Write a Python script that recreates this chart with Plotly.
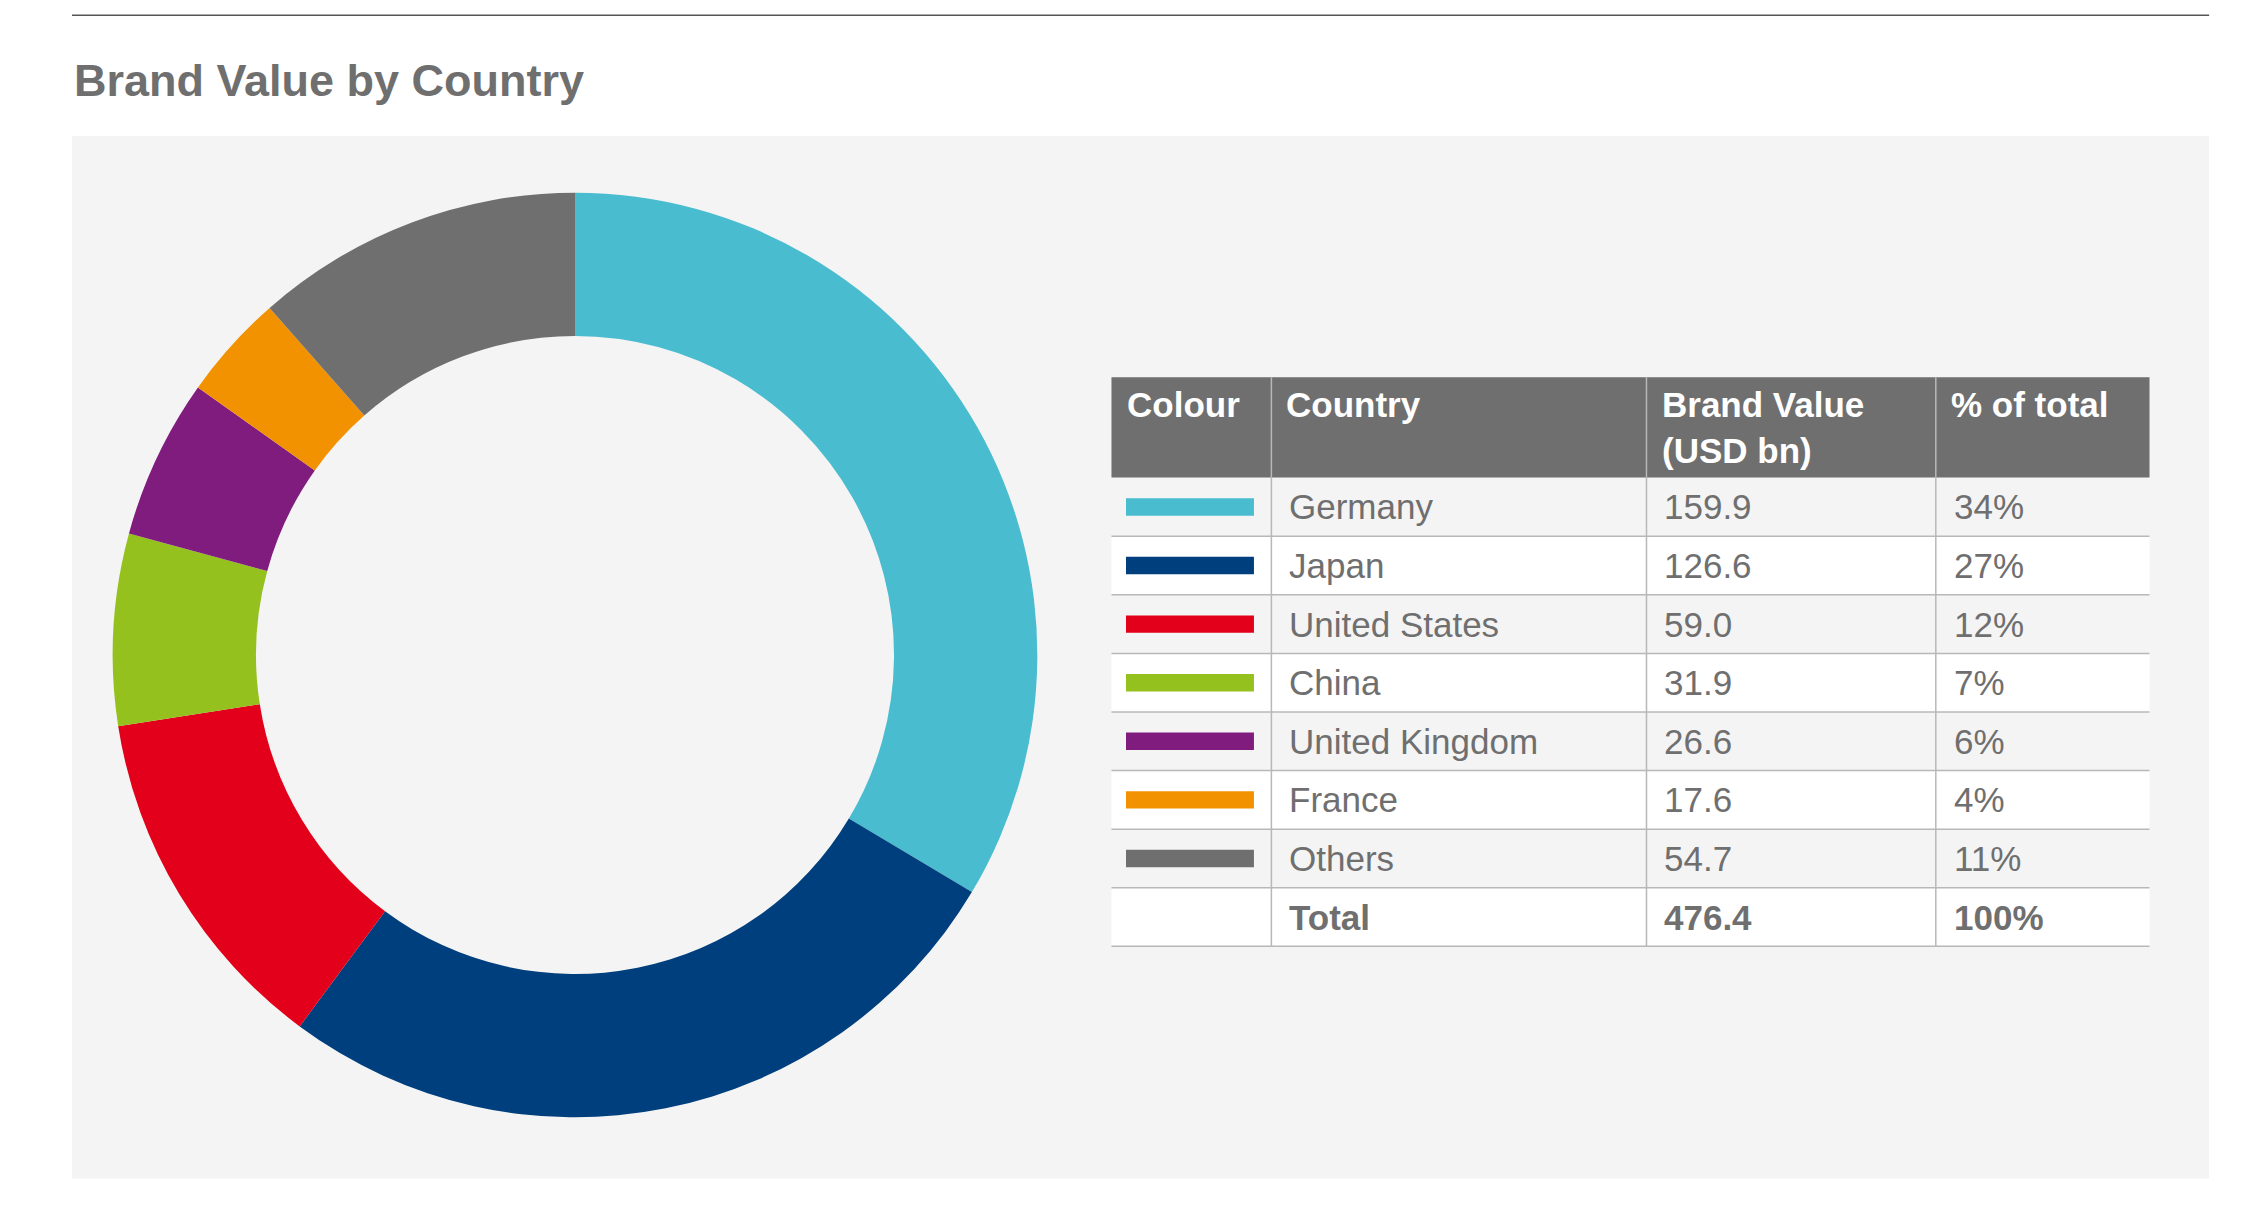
import plotly.graph_objects as go

countries = ["Germany", "Japan", "United States", "China", "United Kingdom", "France", "Others"]
values = [159.9, 126.6, 59.0, 31.9, 26.6, 17.6, 54.7]
pcts = ["34%", "27%", "12%", "7%", "6%", "4%", "11%"]
colors = ["#49bcd0", "#003f7d", "#e2001a", "#95c11f", "#7f1c7d", "#f39200", "#6f6f6f"]
headers = ["Colour", "Country", "Brand Value<br>(USD bn)", "% of total"]
total_value = "476.4"
total_pct = "100%"

W, H = 1560.0, 833.6
def px(x): return x / W
def py(y): return 1 - y / H

TXT = "#6f6f6f"
FONT = "Liberation Sans, Arial, sans-serif"

fig = go.Figure()
fig.add_trace(go.Pie(
    labels=countries, values=values, hole=0.69, sort=False, direction="clockwise",
    rotation=0, marker=dict(colors=colors, line=dict(width=0)), textinfo="none",
    hoverinfo="label+value+percent", showlegend=False,
    domain=dict(x=[px(72), px(708)], y=[py(763), py(127)])))

shapes, ann = [], []
shapes.append(dict(type="line", xref="paper", yref="paper", x0=px(44), x1=px(1514), y0=py(5), y1=py(5),
                   line=dict(color="#555", width=1.5)))
shapes.append(dict(type="rect", xref="paper", yref="paper", x0=px(44), x1=px(1514), y0=py(88), y1=py(805),
                   fillcolor="#f4f4f4", line=dict(width=0), layer="below"))
ann.append(dict(text="<b>Brand Value by Country</b>", x=px(44), y=py(50), xref="paper", yref="paper",
                xanchor="left", yanchor="middle", showarrow=False, font=dict(size=45, color=TXT, family=FONT)))

cols = [759, 869, 1127, 1326, 1473]
htop, hbot, rh = 254, 323, 40.3
shapes.append(dict(type="rect", xref="paper", yref="paper", x0=px(cols[0]), x1=px(cols[-1]), y0=py(htop), y1=py(hbot),
                   fillcolor="#6f6f6f", line=dict(width=0)))
for j, h in enumerate(headers):
    ann.append(dict(text="<b>" + h + "</b>", x=px(cols[j] + 9), y=py(258), xref="paper", yref="paper",
                    xanchor="left", yanchor="top", align="left", showarrow=False,
                    font=dict(size=35, color="white", family=FONT)))
rows = [[c, f"{v:.1f}", p] for c, v, p in zip(countries, values, pcts)] + [["<b>Total</b>", "<b>" + total_value + "</b>", "<b>" + total_pct + "</b>"]]
nrows = len(rows)
for i, r in enumerate(rows):
    y0 = hbot + i * rh
    y1 = y0 + rh
    shapes.append(dict(type="rect", xref="paper", yref="paper", x0=px(cols[0]), x1=px(cols[-1]), y0=py(y0), y1=py(y1),
                       fillcolor="#f4f4f4" if i % 2 == 0 else "white", line=dict(width=0), layer="below"))
    shapes.append(dict(type="line", xref="paper", yref="paper", x0=px(cols[0]), x1=px(cols[-1]), y0=py(y1), y1=py(y1),
                       line=dict(color="#b8b8b8", width=1.5)))
    if i < len(colors):
        shapes.append(dict(type="rect", xref="paper", yref="paper", x0=px(769), x1=px(857),
                           y0=py(y0 + rh / 2 - 6), y1=py(y0 + rh / 2 + 6), fillcolor=colors[i], line=dict(width=0)))
    for j, t in enumerate(r):
        ann.append(dict(text=t, x=px(cols[j + 1] + 11), y=py(y0 + rh / 2), xref="paper", yref="paper",
                        xanchor="left", yanchor="middle", showarrow=False,
                        font=dict(size=35, color=TXT, family=FONT)))
for x in cols[1:-1]:
    shapes.append(dict(type="line", xref="paper", yref="paper", x0=px(x), x1=px(x), y0=py(htop), y1=py(hbot + nrows * rh),
                       line=dict(color="#b8b8b8", width=1.5)))

fig.update_layout(width=2268, height=1212, margin=dict(l=0, r=0, t=0, b=0), paper_bgcolor="white",
                  plot_bgcolor="white", shapes=shapes, annotations=ann, font=dict(family=FONT))
fig.write_html("out.html")
